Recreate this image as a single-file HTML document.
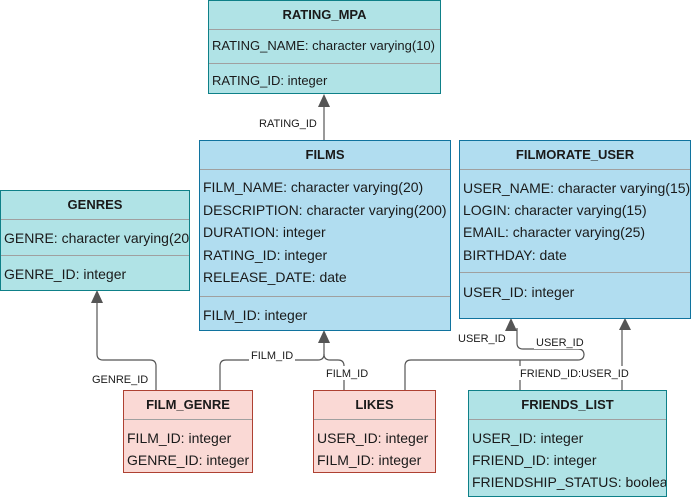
<!DOCTYPE html>
<html><head><meta charset="utf-8"><style>
body{margin:0;width:691px;height:497px;background:#fff;position:relative;overflow:hidden;font-family:"Liberation Sans",Arial,sans-serif;color:#1a1a1a}
.t{position:absolute;box-sizing:border-box;border:1px solid;overflow:hidden;font-size:14px}
.t .h{font-weight:bold;font-size:13px;text-align:center;height:28px;line-height:27px;border-bottom:1px solid #a0a0a0}
.t .r{position:absolute;left:3px;white-space:nowrap;line-height:16px}
.t .s{position:absolute;left:0;right:0;border-top:1px solid #a0a0a0}
.teal{background:#b0e3e6;border-color:#0e8088}
.blue{background:#b1ddf0;border-color:#10739e}
.red{background:#fad9d5;border-color:#ae4132}
svg{position:absolute;left:0;top:0}
.l{font-size:11px;fill:#1a1a1a;font-family:"Liberation Sans",Arial,sans-serif}
</style></head><body>
<svg width="691" height="497">
<g fill="none" stroke="#555" stroke-width="1.2">
<path d="M324 140V104"/>
<path d="M156 390V366q0-6-6-6H103q-6 0-6-6V300"/>
<path d="M220 390V366q0-6 6-6H318q6 0 6-6V342"/>
<path d="M344 390V366q0-6-6-6H330q-6 0-6-6"/>
<path d="M405 390V366q0-6 6-6H578q6 0 6-6V355q0-6-6-6H523q-6 0-6-6V328"/>
<path d="M520 390V360"/>
<path d="M622 390V326"/>
</g>
<g fill="#555">
<polygon points="324,94 318,107 330,107"/>
<polygon points="97,290 91,303 103,303"/>
<polygon points="324,330 318,343 330,343"/>
<polygon points="511,318 505,331 517,331"/>
<polygon points="625,318 619,330 631,330"/>
</g>
<g class="l">
<rect x="257" y="116" width="62" height="14" fill="#fff"/><text x="259" y="127">RATING_ID</text>
<rect x="90" y="372" width="60" height="14" fill="#fff"/><text x="92" y="383">GENRE_ID</text>
<rect x="249" y="348" width="46" height="14" fill="#fff"/><text x="251" y="359">FILM_ID</text>
<rect x="324" y="366" width="48" height="14" fill="#fff"/><text x="326" y="377">FILM_ID</text>
<text x="458" y="342">USER_ID</text>
<rect x="534" y="335" width="50" height="14" fill="#fff"/><text x="536" y="346">USER_ID</text>
<rect x="518" y="366" width="114" height="14" fill="#fff"/><text x="520" y="377">FRIEND_ID:USER_ID</text>
</g>
</svg>

<div class="t teal" style="left:208px;top:0;width:233px;height:94px;font-size:13px">
<div class="h">RATING_MPA</div>
<div class="r" style="top:37px">RATING_NAME: character varying(10)</div>
<div class="s" style="top:62px"></div>
<div class="r" style="top:72px">RATING_ID: integer</div>
</div>

<div class="t blue" style="left:199px;top:140px;width:252px;height:191px">
<div class="h">FILMS</div>
<div class="r" style="top:38px">FILM_NAME: character varying(20)</div>
<div class="r" style="top:61px">DESCRIPTION: character varying(200)</div>
<div class="r" style="top:83px">DURATION: integer</div>
<div class="r" style="top:106px">RATING_ID: integer</div>
<div class="r" style="top:128px">RELEASE_DATE: date</div>
<div class="s" style="top:155px"></div>
<div class="r" style="top:166px">FILM_ID: integer</div>
</div>

<div class="t blue" style="left:459px;top:140px;width:232px;height:179px">
<div class="h">FILMORATE_USER</div>
<div class="r" style="top:39px">USER_NAME: character varying(15)</div>
<div class="r" style="top:61px">LOGIN: character varying(15)</div>
<div class="r" style="top:83px">EMAIL: character varying(25)</div>
<div class="r" style="top:106px">BIRTHDAY: date</div>
<div class="s" style="top:131px"></div>
<div class="r" style="top:143px">USER_ID: integer</div>
</div>

<div class="t teal" style="left:0;top:190px;width:190px;height:101px">
<div class="h">GENRES</div>
<div class="r" style="top:39px">GENRE: character varying(20)</div>
<div class="s" style="top:64px"></div>
<div class="r" style="top:75px">GENRE_ID: integer</div>
</div>

<div class="t red" style="left:123px;top:390px;width:130px;height:83px">
<div class="h">FILM_GENRE</div>
<div class="r" style="top:39px">FILM_ID: integer</div>
<div class="r" style="top:61px">GENRE_ID: integer</div>
</div>

<div class="t red" style="left:313px;top:390px;width:123px;height:83px">
<div class="h">LIKES</div>
<div class="r" style="top:39px">USER_ID: integer</div>
<div class="r" style="top:61px">FILM_ID: integer</div>
</div>

<div class="t teal" style="left:468px;top:390px;width:199px;height:107px">
<div class="h">FRIENDS_LIST</div>
<div class="r" style="top:39px">USER_ID: integer</div>
<div class="r" style="top:61px">FRIEND_ID: integer</div>
<div class="r" style="top:83px">FRIENDSHIP_STATUS: boolean</div>
</div>
</body></html>
